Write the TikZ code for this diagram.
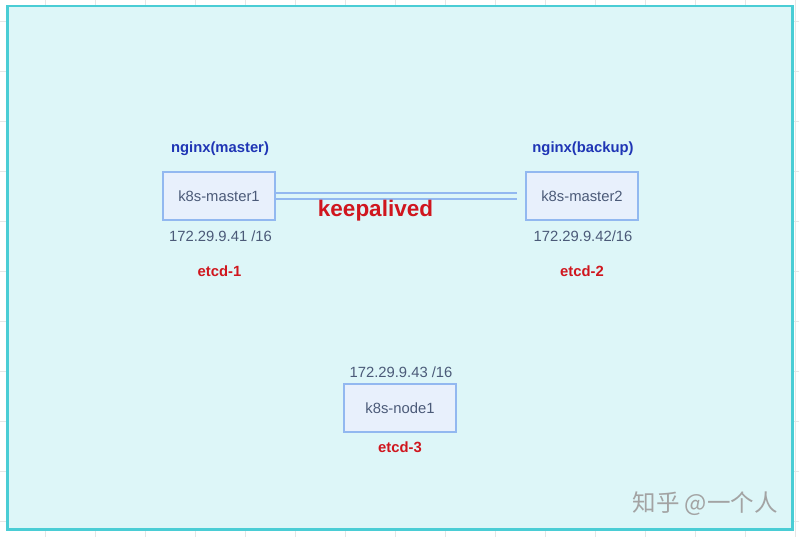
\documentclass[tikz,border=0pt]{standalone}
\usepackage{fontspec}
\setmainfont{Liberation Sans}
\newfontfamily\cjk{Noto Sans CJK SC}

\definecolor{panelfill}{HTML}{DDF6F8}
\definecolor{paneledge}{HTML}{4ACDD5}
\definecolor{boxedge}{HTML}{92B8F0}
\definecolor{boxfill}{HTML}{E8F0FC}
\definecolor{hosttext}{HTML}{4B5A78}
\definecolor{nginxblue}{HTML}{1F35B5}
\definecolor{etcdred}{HTML}{D0161E}
\definecolor{gridgrey}{HTML}{E6E6E6}

\tikzset{
  hostbox/.style={draw=boxedge,fill=boxfill,line width=2pt,minimum width=112pt,minimum height=48pt,
    text=hosttext,font=\fontsize{14.8}{17}\selectfont},
  iplabel/.style={text=hosttext,inner sep=0pt,font=\fontsize{14.8}{17}\selectfont},
  nginxlabel/.style={text=nginxblue,inner sep=0pt,font=\bfseries\fontsize{14.8}{17}\selectfont},
  etcdlabel/.style={text=etcdred,inner sep=0pt,font=\bfseries\fontsize{14.8}{17}\selectfont},
  keeplink/.style={draw=boxedge,line width=2pt,double=panelfill,double distance=4.5pt}
}

\begin{document}
\begin{tikzpicture}[x=1pt,y=-1pt]
\useasboundingbox (0,0) rectangle (799,537);
\fill[white] (0,0) rectangle (799,537);
% grid behind the panel
\foreach \x in {45,95,...,795} \draw[gridgrey] (\x,0)--(\x,537);
\foreach \y in {21,71,...,521} \draw[gridgrey] (0,\y)--(799,\y);
\draw[paneledge,fill=panelfill,line width=2.6pt] (7.5,6) rectangle (792.5,529.5);

% hosts
\node[hostbox] (master1) at (219,196) {k8s-master1};
\node[hostbox] (master2) at (582,196) {k8s-master2};
\node[hostbox] (node1) at (400,408) {k8s-node1};

\node[nginxlabel] (nginxm) at (220,148.5) {nginx(master)};
\node[nginxlabel] (nginxb) at (583,148.5) {nginx(backup)};
\node[iplabel] (ip1) at (220.5,236) {172.29.9.41 /16};
\node[iplabel] (ip2) at (583,236) {172.29.9.42/16};
\node[iplabel] (ip3) at (401,372) {172.29.9.43 /16};
\node[etcdlabel] (etcd1) at (219.5,271) {etcd-1};
\node[etcdlabel] (etcd2) at (582,271) {etcd-2};
\node[etcdlabel] (etcd3) at (400,447) {etcd-3};

\draw[keeplink] (master1.east) -- ([xshift=-8pt]master2.west);
\node[text=etcdred,font=\bfseries\fontsize{22.5}{25}\selectfont] (keep) at (375.5,210.5) {keepalived};

\node[text=black!36,font=\cjk\fontsize{23.5}{26}\selectfont] (mark) at (705,504) {知乎 @一个人};
\end{tikzpicture}
\end{document}
